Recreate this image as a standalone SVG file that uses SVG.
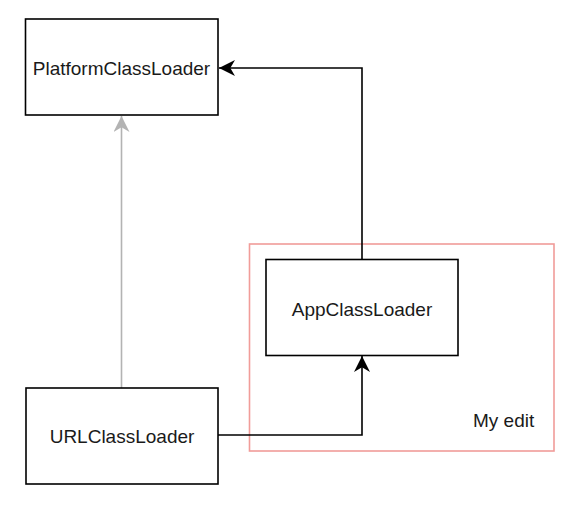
<svg xmlns="http://www.w3.org/2000/svg" width="580" height="509" viewBox="0 0 580 509">
<style>
.node{fill:#ffffff;stroke:#000000;stroke-width:1.6}
.lbl{font-family:"Liberation Sans",Arial,sans-serif;font-size:19px;fill:#1a1a1a;text-anchor:middle}
.edge{fill:none;stroke-width:1.6}
</style>
<defs>
<marker id="ab" markerUnits="userSpaceOnUse" markerWidth="16" markerHeight="16" refX="12" refY="6" orient="auto" viewBox="0 0 12 12">
<path d="M12,6 L0,0 L3.5,6 L0,12 Z" fill="#000000"/>
</marker>
<marker id="ag" markerUnits="userSpaceOnUse" markerWidth="16" markerHeight="16" refX="12" refY="6" orient="auto" viewBox="0 0 12 12">
<path d="M12,6 L0,0 L3.5,6 L0,12 Z" fill="#b3b3b3"/>
</marker>
</defs>
<rect width="580" height="509" fill="#ffffff"/>
<g id="edit-area">
<rect x="249.5" y="244" width="304.5" height="207" fill="none" stroke="#f19c99" stroke-width="1.6"/>
<text x="473" y="427" class="lbl" style="text-anchor:start">My edit</text>
</g>
<g id="connectors">
<path class="edge" stroke="#b3b3b3" d="M121.5,388 L121.5,116" marker-end="url(#ag)"/>
<path class="edge" stroke="#000000" d="M362,259 L362,68 L219,68" marker-end="url(#ab)"/>
<path class="edge" stroke="#000000" d="M218,435 L362,435 L362,356" marker-end="url(#ab)"/>
</g>
<g id="platform">
<rect class="node" x="25.5" y="19" width="192.5" height="96"/>
<text x="121.5" y="74.5" class="lbl">PlatformClassLoader</text>
</g>
<g id="app">
<rect class="node" x="266" y="259.5" width="192" height="96"/>
<text x="362" y="315.5" class="lbl">AppClassLoader</text>
</g>
<g id="url">
<rect class="node" x="26" y="388" width="192" height="96"/>
<text x="122" y="443" class="lbl">URLClassLoader</text>
</g>
</svg>
